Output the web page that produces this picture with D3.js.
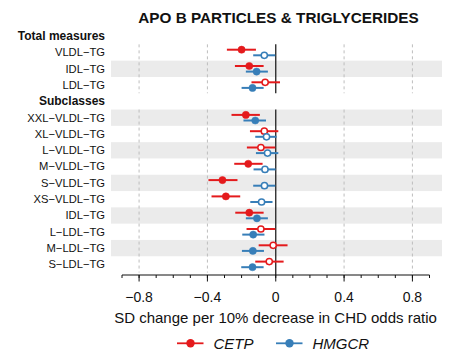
<!DOCTYPE html>
<html>
<head>
<meta charset="utf-8">
<script src="https://cdn.jsdelivr.net/npm/d3@7"></script>
<style>
  html, body { margin: 0; padding: 0; background: #fff; }
  svg { display: block; font-family: "Liberation Sans", Arial, Helvetica, sans-serif; }
</style>
</head>
<body>
<svg id="chart" width="474" height="355"></svg>
<script>
// ---- data ----
const title = "APO B PARTICLES & TRIGLYCERIDES";
// row entries: headers and measures
const rowLabels = ["Total measures", "VLDL−TG", "IDL−TG", "LDL−TG",
  "Subclasses", "XXL−VLDL−TG", "XL−VLDL−TG", "L−VLDL−TG", "M−VLDL−TG", "S−VLDL−TG",
  "XS−VLDL−TG", "IDL−TG", "L−LDL−TG", "M−LDL−TG", "S−LDL−TG"];
const rowIsHeader = [1,0,0,0,1,0,0,0,0,0,0,0,0,0,0];
const rowShaded   = [0,0,1,0,0,1,0,1,0,1,0,1,0,1,0];
const groupRows = [[1,3],[5,14]];

// measure rows (indices into rowLabels)
const measureRows = [1,2,3,5,6,7,8,9,10,11,12,13,14];
const cetpEst = [-0.200,-0.155,-0.062,-0.175,-0.067,-0.087,-0.161,-0.312,-0.292,-0.155,-0.087,-0.015,-0.038];
const cetpLo  = [-0.286,-0.239,-0.142,-0.259,-0.151,-0.169,-0.243,-0.394,-0.376,-0.237,-0.171,-0.100,-0.120];
const cetpHi  = [-0.116,-0.071, 0.025,-0.093, 0.015,-0.003,-0.077,-0.224,-0.208,-0.071,-0.003, 0.069, 0.046];
const cetpSig = [1,1,0,1,0,0,1,1,1,1,0,0,0];
const hmgEst  = [-0.067,-0.112,-0.136,-0.120,-0.054,-0.048,-0.063,-0.066,-0.083,-0.110,-0.132,-0.134,-0.136];
const hmgLo   = [-0.132,-0.175,-0.200,-0.189,-0.120,-0.116,-0.130,-0.132,-0.149,-0.175,-0.196,-0.198,-0.202];
const hmgHi   = [-0.003,-0.046,-0.071,-0.057, 0.005, 0.015,-0.001,-0.003,-0.019,-0.046,-0.066,-0.069,-0.071];
const hmgSig  = [0,1,1,1,0,0,0,0,0,1,1,1,1];

const xDomain = [-0.9, 0.9];
const majorTicks = [-0.8, -0.4, 0, 0.4, 0.8];
const majorTickLabels = ["−0.8", "−0.4", "0", "0.4", "0.8"];
const minorTicks = d3.range(-9, 10).map(d => d / 10);
const xTitle = "SD change per 10% decrease in CHD odds ratio";
const seriesNames = ["CETP", "HMGCR"];
const seriesColors = ["#e41a1c", "#377eb8"];

// ---- layout ----
const svg = d3.select("#chart");
const x = d3.scaleLinear().domain(xDomain).range([122, 429.5]);
const y = d3.scaleLinear().domain([0, rowLabels.length - 1]).range([36.2, 264.4]);
const rowH = y(1) - y(0);
const plotL = 111, plotR = 442;
const axisY = 275;

// title
svg.append("text").attr("x", 278.5).attr("y", 22.5).attr("text-anchor", "middle")
  .attr("font-weight", "bold").attr("font-size", 15.3).attr("fill", "#111").text(title);

// shaded bands
svg.append("g").selectAll("rect").data(rowLabels.map((d, i) => i).filter(i => rowShaded[i]))
  .join("rect").attr("x", plotL).attr("width", plotR - plotL)
  .attr("y", i => y(i) - rowH / 2).attr("height", rowH).attr("fill", "#ebebeb");

// dashed grid lines and zero line per group
groupRows.forEach(([a, b]) => {
  const top = y(a) - rowH / 2, bot = (b === rowLabels.length - 1) ? axisY : y(b) + rowH / 2;
  svg.append("g").selectAll("line").data(majorTicks.filter(t => t !== 0)).join("line")
    .attr("x1", d => x(d)).attr("x2", d => x(d)).attr("y1", top).attr("y2", y(b) + rowH / 2)
    .attr("stroke", "#bdbdbd").attr("stroke-width", 1).attr("stroke-dasharray", "3,3");
  svg.append("line").attr("x1", x(0)).attr("x2", x(0)).attr("y1", top).attr("y2", bot)
    .attr("stroke", "#222").attr("stroke-width", 1.3);
});

// row labels
svg.append("g").selectAll("text").data(rowLabels).join("text")
  .attr("x", 105).attr("y", (d, i) => y(i) + (rowIsHeader[i] ? 4 : 3.8))
  .attr("text-anchor", "end")
  .attr("font-size", (d, i) => rowIsHeader[i] ? 12 : 11.2)
  .attr("font-weight", (d, i) => rowIsHeader[i] ? "bold" : "normal")
  .attr("fill", "#111").text(d => d);

// series
const series = [
  { est: cetpEst, lo: cetpLo, hi: cetpHi, sig: cetpSig, off: -2.8, color: seriesColors[0] },
  { est: hmgEst, lo: hmgLo, hi: hmgHi, sig: hmgSig, off: 2.8, color: seriesColors[1] }
];
series.forEach(s => {
  const g = svg.append("g");
  const pts = measureRows.map((r, i) => ({ r, e: s.est[i], lo: s.lo[i], hi: s.hi[i], sig: s.sig[i] }));
  g.selectAll("line").data(pts).join("line")
    .attr("x1", d => x(d.lo)).attr("x2", d => x(d.hi))
    .attr("y1", d => y(d.r) + s.off).attr("y2", d => y(d.r) + s.off)
    .attr("stroke", s.color).attr("stroke-width", 2);
  g.selectAll("circle").data(pts).join("circle")
    .attr("cx", d => x(d.e)).attr("cy", d => y(d.r) + s.off)
    .attr("r", d => d.sig ? 3.6 : 3.1)
    .attr("fill", d => d.sig ? s.color : "#fff")
    .attr("stroke", s.color).attr("stroke-width", d => d.sig ? 0.5 : 1.5);
});

// axis
const axis = svg.append("g").attr("transform", `translate(0,${axisY})`);
axis.append("line").attr("x1", x(xDomain[0])).attr("x2", x(xDomain[1]))
  .attr("stroke", "#111").attr("stroke-width", 1);
axis.selectAll("line.minor").data(minorTicks).join("line").attr("class", "minor")
  .attr("x1", d => x(d)).attr("x2", d => x(d)).attr("y1", 0).attr("y2", 3)
  .attr("stroke", "#111").attr("stroke-width", 1);
axis.selectAll("line.major").data(majorTicks).join("line").attr("class", "major")
  .attr("x1", d => x(d)).attr("x2", d => x(d)).attr("y1", 0).attr("y2", 6.5)
  .attr("stroke", "#111").attr("stroke-width", 1);
axis.selectAll("text").data(majorTicks).join("text")
  .attr("x", d => x(d)).attr("y", 26.5).attr("text-anchor", "middle")
  .attr("font-size", 14).attr("fill", "#111").text((d, i) => majorTickLabels[i]);

svg.append("text").attr("x", 275.5).attr("y", 322.5).attr("text-anchor", "middle")
  .attr("font-size", 15).attr("fill", "#111").text(xTitle);

// legend
const legendX = [190.5, 289.5];
const legY = 343.3;
const leg = svg.append("g").selectAll("g").data(seriesNames).join("g");
leg.append("line").attr("x1", (d, i) => legendX[i] - 13.5).attr("x2", (d, i) => legendX[i] + 13)
  .attr("y1", legY).attr("y2", legY).attr("stroke", (d, i) => seriesColors[i]).attr("stroke-width", 1.8);
leg.append("circle").attr("cx", (d, i) => legendX[i]).attr("cy", legY).attr("r", 4.2)
  .attr("fill", (d, i) => seriesColors[i]);
leg.append("text").attr("x", (d, i) => legendX[i] + 23).attr("y", legY + 5.3)
  .attr("font-size", 15).attr("font-style", "italic").attr("fill", "#111").text(d => d);
</script>
</body>
</html>
